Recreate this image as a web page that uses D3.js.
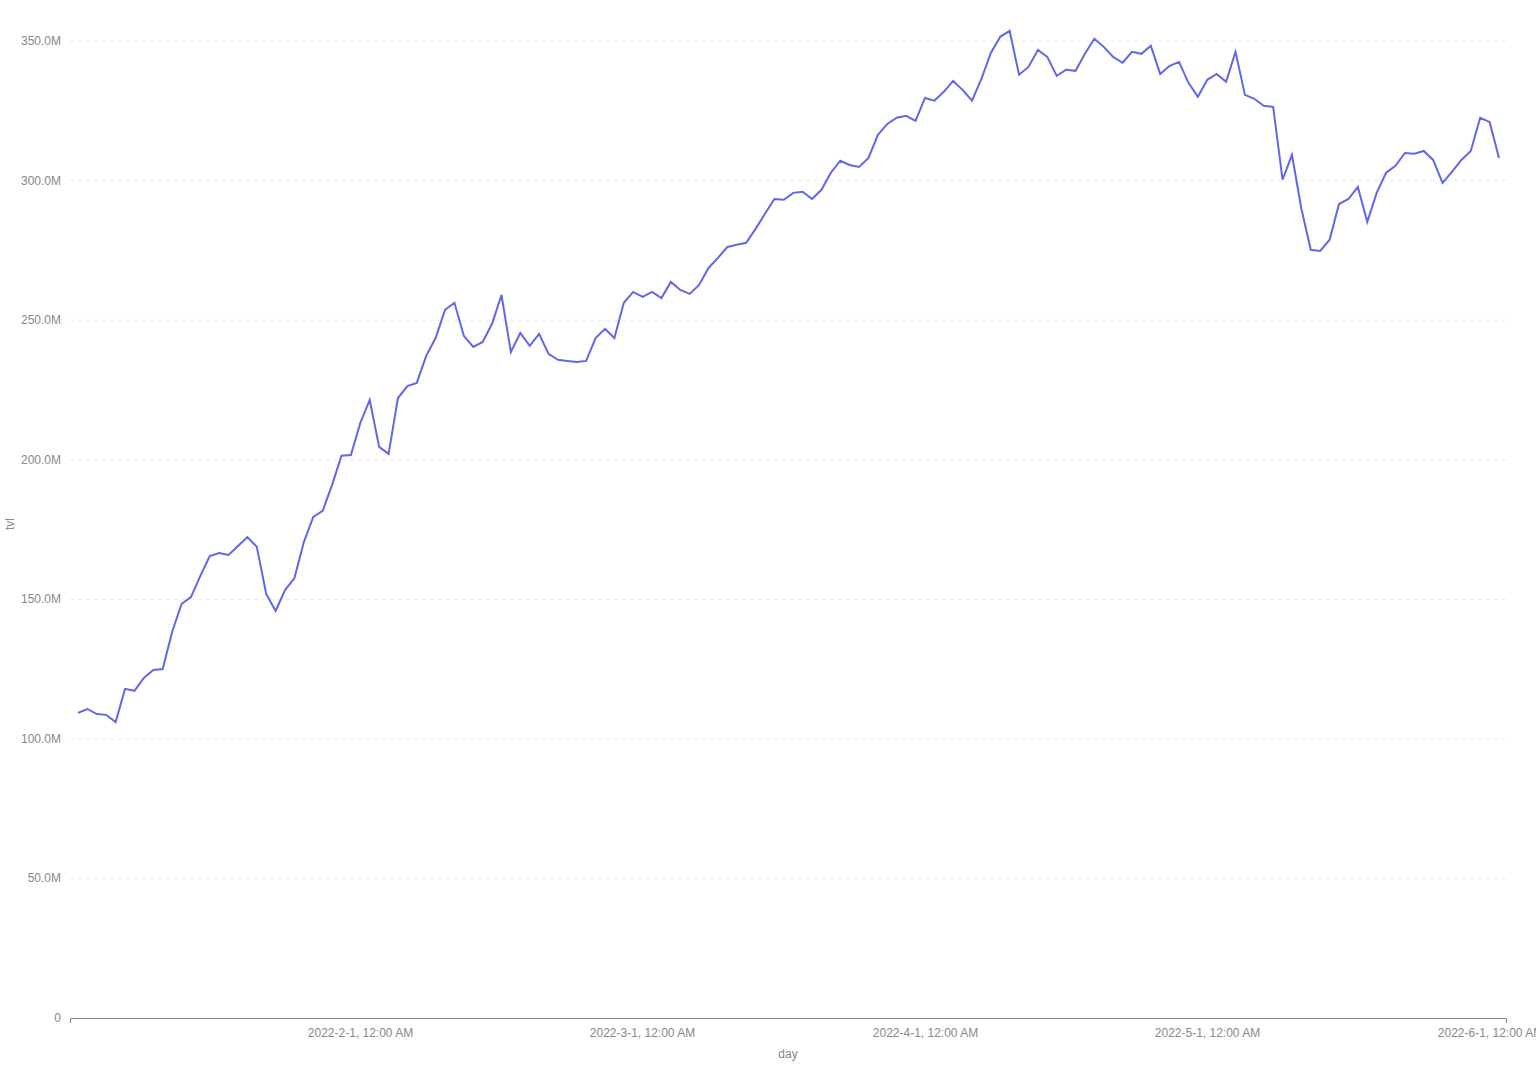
<!DOCTYPE html>
<html><head><meta charset="utf-8">
<script src="https://cdn.jsdelivr.net/npm/d3@7"></script>
<style>body{margin:0;background:#fff;font-family:"Liberation Sans",Arial,sans-serif}</style>
</head><body><svg id="c" width="1536" height="1080"></svg>
<script>
const startDay = "2022-01-02";
const tvlM = [109.3,110.7,108.9,108.6,106,117.9,117.2,121.8,124.7,125,138.3,148.3,150.8,158.4,165.5,166.6,165.9,169.1,172.3,168.8,151.9,145.8,153.3,157.6,170.5,179.5,181.7,191,201.4,201.7,213.2,221.4,204.6,202.1,222.1,226.4,227.5,237.2,243.6,253.7,256.2,244.4,240.4,242.2,248.7,259,238.6,245.4,240.8,245.1,237.9,235.8,235.4,235,235.4,243.6,246.9,243.6,256.2,260.1,258.3,260.1,257.9,263.7,260.8,259.4,262.6,268.7,272.3,276.2,277,277.7,282.7,288.1,293.4,293.1,295.6,296,293.4,296.7,302.8,307.1,305.6,304.9,308.1,316.4,320.3,322.5,323.2,321.4,329.6,328.6,331.8,335.7,332.5,328.6,336.4,345.7,351.5,353.6,337.9,340.7,346.8,344.3,337.5,339.7,339.3,345.4,350.8,347.9,344.3,342.2,346.1,345.4,348.3,338.2,341.1,342.5,335,330,336.1,338.2,335.4,346.1,330.7,329.3,326.8,326.4,300.3,309.2,289.9,275.2,274.8,278.8,291.6,293.4,297.7,285.2,295.6,302.8,305.3,309.9,309.6,310.6,307.4,299.2,303.1,307.4,310.6,322.5,321,308.1];
const yTicks = [0,50e6,100e6,150e6,200e6,250e6,300e6,350e6];
const xTickDates = ["2022-02-01","2022-03-01","2022-04-01","2022-05-01","2022-06-01"];

const parse = d3.utcParse("%Y-%m-%d");
const t0 = parse(startDay);
const data = tvlM.map((v,i)=>({i:i, d:d3.utcDay.offset(t0,i), v:v*1e6}));
const svg = d3.select("#c");
// points evenly spaced by index
const xi = d3.scaleLinear().domain([0,data.length-1]).range([78,1499]);
// axis: months equally spaced
const monthDomain = ["2022-01-01",...xTickDates,"2022-06-03"].map(parse);
const x = d3.scaleUtc().domain(monthDomain).range([70,360,642,925,1207,1490,1506]);
const y = d3.scaleLinear().domain([0,350e6]).range([1018,41]);
const fmt = d3.utcFormat("%Y-%-m-%-d");

svg.append("g").selectAll("line").data(yTicks.slice(1)).join("line")
  .attr("x1",70).attr("x2",1506).attr("y1",d=>y(d)).attr("y2",d=>y(d))
  .attr("stroke","#ebebeb").attr("stroke-dasharray","4,4");
svg.append("g").selectAll("text").data(yTicks).join("text")
  .attr("x",61).attr("y",d=>y(d)+4).attr("text-anchor","end")
  .attr("font-size",12).attr("fill","#888")
  .text(d=>d===0?"0":(d/1e6).toFixed(1)+"M");

const xa = svg.append("g").attr("transform","translate(0,1018)")
  .call(d3.axisBottom(x).tickValues(xTickDates.map(parse)).tickSizeInner(0).tickSizeOuter(5).tickPadding(10)
  .tickFormat(d=>fmt(d)+", 12:00 AM"));
xa.select(".domain").attr("stroke","#888");
xa.selectAll("text").attr("fill","#888").attr("font-size",12).attr("font-family","Liberation Sans, Arial, sans-serif");

svg.append("path").datum(data)
  .attr("d",d3.line().x(d=>xi(d.i)).y(d=>y(d.v)))
  .attr("fill","none").attr("stroke","#6366e6").attr("stroke-width",2);

svg.append("text").attr("x",788).attr("y",1058).attr("text-anchor","middle").attr("font-size",12).attr("fill","#888").text("day");
svg.append("text").attr("transform","translate(14,524) rotate(-90)").attr("text-anchor","middle").attr("font-size",12).attr("fill","#888").text("tvl");
</script></body></html>
